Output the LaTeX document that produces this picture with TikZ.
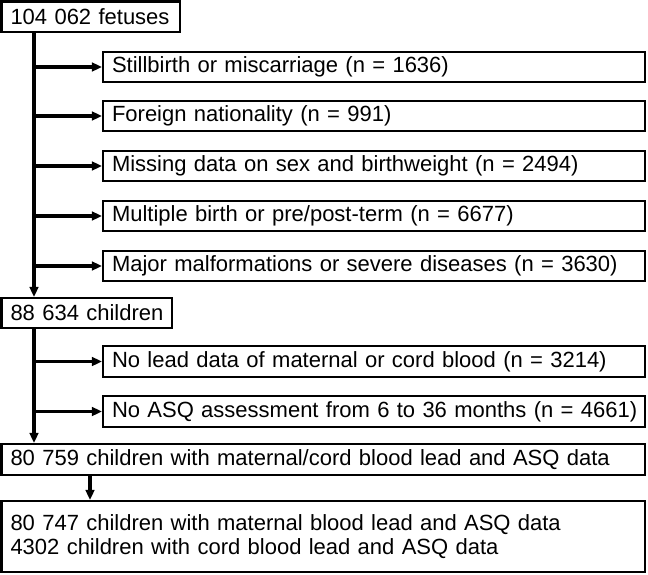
\documentclass[tikz,border=0pt]{standalone}
\usepackage{fontspec}
\setmainfont{Liberation Sans}
\usetikzlibrary{arrows.meta}
\begin{document}
\begin{tikzpicture}[x=0.75pt,y=-0.75pt,
  box/.style={draw, line width=1.9pt, anchor=north west, inner xsep=6.75pt, inner ysep=0pt,
    outer sep=0pt, align=left, font=\fontsize{16.5pt}{17.8pt}\selectfont},
  arr/.style={line width=2.3pt, -{Triangle[length=7.5pt,width=6.5pt]}, shorten >=0.8pt}]
\useasboundingbox (0,0) rectangle (648,574);
\node[box, minimum width=133.9pt, minimum height=22.9pt, text width=120.4pt] (top) at (1.5,1.5) {\mbox{104 062 fetuses}};
\node[box, minimum width=406.5pt, minimum height=22.5pt, text width=393pt] (e1) at (103,52) {\mbox{Stillbirth or miscarriage (n = 1636)}};
\node[box, minimum width=406.5pt, minimum height=22.5pt, text width=393pt] (e2) at (103,101) {\mbox{Foreign nationality (n = 991)}};
\node[box, minimum width=406.5pt, minimum height=22.5pt, text width=393pt] (e3) at (103,151) {\mbox{Missing data on sex and birthweight (n = 2494)}};
\node[box, minimum width=406.5pt, minimum height=22.5pt, text width=393pt] (e4) at (103,201) {\mbox{Multiple birth or pre/post-term (n = 6677)}};
\node[box, minimum width=406.5pt, minimum height=22.5pt, text width=393pt] (e5) at (103,251) {\mbox{Major malformations or severe diseases (n = 3630)}};
\node[box, minimum width=127.9pt, minimum height=22.5pt, text width=114.4pt] (c88) at (1.5,298) {\mbox{88 634 children}};
\node[box, minimum width=406.5pt, minimum height=23.25pt, text width=393pt] (e6) at (103,346) {\mbox{No lead data of maternal or cord blood (n = 3214)}};
\node[box, minimum width=406.5pt, minimum height=23.25pt, text width=393pt] (e7) at (103,396) {\mbox{No ASQ assessment from 6 to 36 months (n = 4661)}};
\node[box, minimum width=482.6pt, minimum height=23.25pt, text width=469.1pt] (c80) at (1.5,444) {\mbox{80 759 children with maternal/cord blood lead and ASQ data}};
\node[box, minimum width=482.6pt, minimum height=53.25pt, text width=469.1pt] (fin) at (1.5,501) {80 747 children with maternal blood lead and ASQ data\\4302 children with cord blood lead and ASQ data};
\coordinate (v1) at (34,0);
\coordinate (v3) at (90,0);
\draw[arr] (top.south -| v1) -- (c88.north -| v1);
\foreach \n in {e1,e2,e3,e4,e5} \draw[arr] (\n.west -| v1) -- (\n.west);
\draw[arr] (c88.south -| v1) -- (c80.north -| v1);
\foreach \n in {e6,e7} \draw[arr] (\n.west -| v1) -- (\n.west);
\draw[arr] (c80.south -| v3) -- (fin.north -| v3);
\end{tikzpicture}
\end{document}
